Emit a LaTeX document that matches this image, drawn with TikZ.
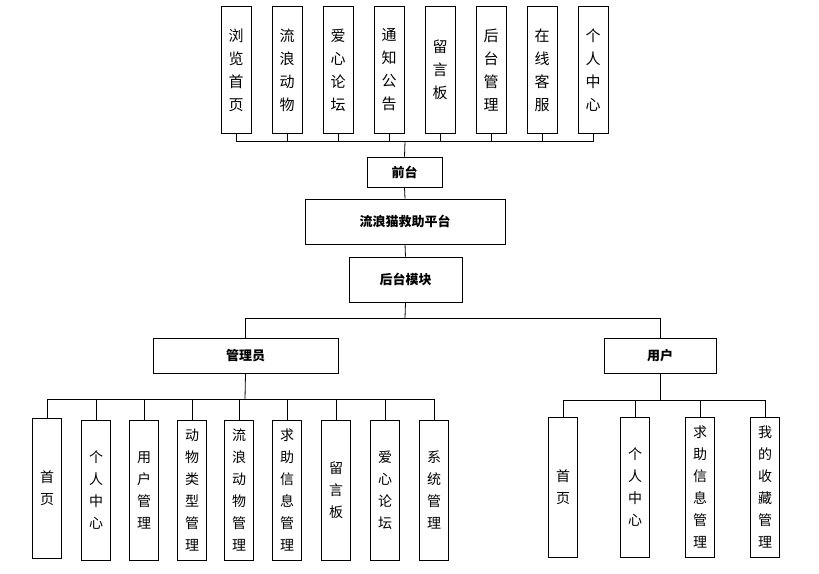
\documentclass[tikz,border=0pt]{standalone}
\usepackage{fontspec}
\setmainfont{Noto Sans CJK SC}
\begin{document}
\begin{tikzpicture}[x=1pt,y=-1pt,
 box/.style={draw,line width=0.8pt,fill=white,inner sep=0pt,align=center},
 tb/.style={box,minimum width=30pt,minimum height=127pt,font=\fontsize{15}{23}\selectfont,anchor=north},
 bb/.style={box,minimum width=29pt,minimum height=140pt,font=\fontsize{14}{22}\selectfont,anchor=north},
 mb/.style={box,font=\fontsize{13}{16}\selectfont\bfseries},
 ln/.style={line width=0.8pt}]
\useasboundingbox (0,0) rectangle (819,573);
% top
\foreach \x/\t [count=\i] in {236/浏\\览\\首\\页,287/流\\浪\\动\\物,338/爱\\心\\论\\坛,389/通\\知\\公\\告,440/留\\言\\板,491/后\\台\\管\\理,542/在\\线\\客\\服,593/个\\人\\中\\心}
  \node[tb] (t\i) at (\x,6) {\t};
\node[mb,minimum width=75pt,minimum height=30pt] (qt) at (404.5,172) {前台};
\node[mb,minimum width=200pt,minimum height=45pt] (pt) at (405,221.5) {流浪猫救助平台};
\node[mb,minimum width=113pt,minimum height=45pt] (ht) at (405.5,279.5) {后台模块};
\node[mb,minimum width=185pt,minimum height=35pt] (adm) at (245.5,355.5) {管理员};
\node[mb,minimum width=112pt,minimum height=35pt] (usr) at (660,355.5) {用户};
\coordinate (bus) at (405,141);
\foreach \i in {1,...,8} \draw[ln] (t\i.south) |- (bus);
\draw[ln] (bus) -- (qt.north);
\draw[ln] (qt.south) -- (pt.north);
\draw[ln] (pt.south) -- (ht.north);
\coordinate (hb) at (405,318);
\draw[ln] (ht.south) -- (hb);
\draw[ln] (hb) -| (adm.north);
\draw[ln] (hb) -| (usr.north);
% admin children
\foreach \x/\y/\t [count=\i] in {47/418/首\\页,96/420/个\\人\\中\\心,144/420/用\\户\\管\\理,192/420/动\\物\\类\\型\\管\\理,239/420/流\\浪\\动\\物\\管\\理,287/420/求\\助\\信\\息\\管\\理,336/420/留\\言\\板,385/420/爱\\心\\论\\坛,434/420/系\\统\\管\\理}
  \node[bb] (a\i) at (\x,\y) {\t};
\coordinate (ab) at (245,399);
\draw[ln] (adm.south) -- (ab);
\foreach \i in {1,...,9} \draw[ln] (ab) -| (a\i.north);
% user children
\foreach \x/\t [count=\i] in {563/首\\页,635/个\\人\\中\\心,700/求\\助\\信\\息\\管\\理,765/我\\的\\收\\藏\\管\\理}
  \node[bb] (u\i) at (\x,417) {\t};
\coordinate (ub) at (660,400);
\draw[ln] (usr.south) -- (ub);
\foreach \i in {1,...,4} \draw[ln] (ub) -| (u\i.north);
\end{tikzpicture}
\end{document}
